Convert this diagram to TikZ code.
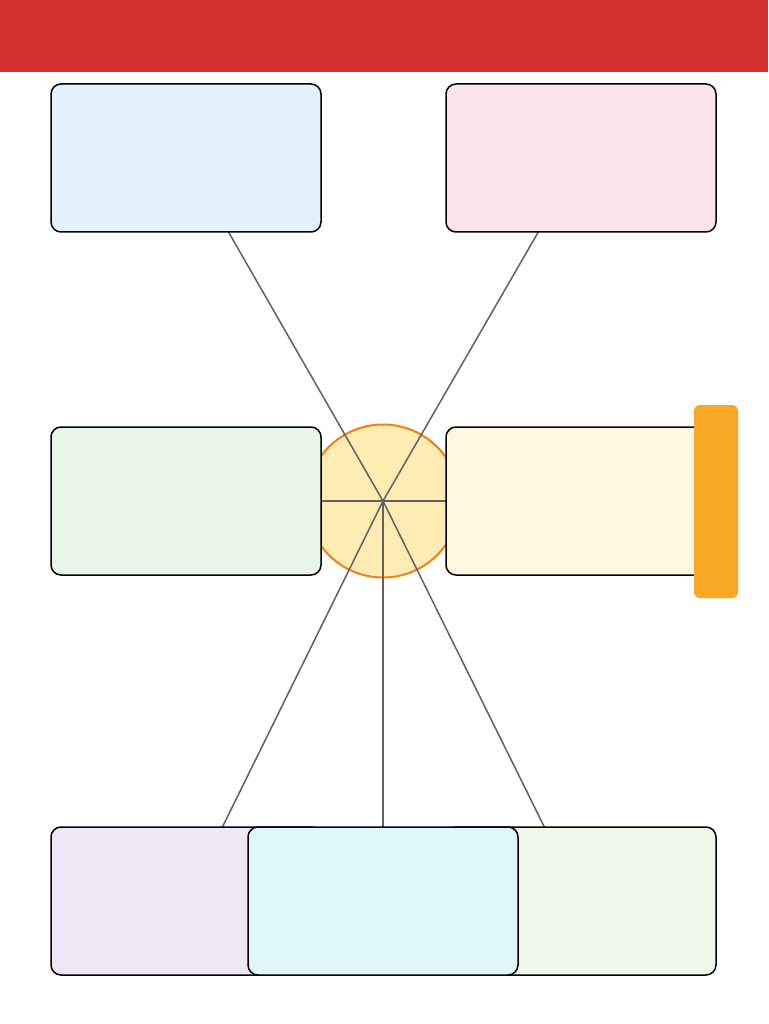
\documentclass[tikz,border=0pt]{standalone}
\usetikzlibrary{backgrounds}
\definecolor{hdr}{HTML}{D32F2F}
\definecolor{cTL}{HTML}{E3F2FD}
\definecolor{cTR}{HTML}{FCE4EC}
\definecolor{cML}{HTML}{E8F5E9}
\definecolor{cMR}{HTML}{FFF8E1}
\definecolor{cBL}{HTML}{EDE7F6}
\definecolor{cBM}{HTML}{E0F7FA}
\definecolor{cBR}{HTML}{F1F8E9}
\definecolor{hubfill}{HTML}{FFECB3}
\definecolor{hubline}{HTML}{F57F17}
\definecolor{barc}{HTML}{F9A825}
\definecolor{spoke}{HTML}{616161}
\begin{document}
\begin{tikzpicture}[x=1pt,y=-1pt,
  card/.style={draw=black,line width=1.5pt,rounded corners=10pt,minimum width=270pt,minimum height=148pt,inner sep=0pt},
  spokeline/.style={draw=spoke,line width=1.5pt}]
\useasboundingbox (0,0) rectangle (768,1024);
\node[card,fill=cTL] (tl) at (186,158) {};
\node[card,fill=cTR] (tr) at (581,158) {};
\node[card,fill=cML] (ml) at (186,501) {};
\node[card,fill=cMR] (mr) at (581,501) {};
\node[card,fill=cBL] (bl) at (186,901) {};
\node[card,fill=cBR] (br) at (581,901) {};
\node[card,fill=cBM] (bm) at (383,901) {};
\node[fill=barc,rounded corners=6pt,minimum width=44pt,minimum height=193pt,inner sep=0pt] (bar) at (716,501.5) {};
\begin{scope}[on background layer]
\fill[white] (0,0) rectangle (768,1024);
\fill[hdr] (0,0) rectangle (768,72);
\node[circle,fill=hubfill,draw=hubline,line width=2pt,minimum size=153pt,inner sep=0pt] (hub) at (383,501) {};
\coordinate (c) at (383,501);
\foreach \b in {tl,tr,ml,mr,bl,bm,br} \draw[spokeline] (c) -- (\b.center);
\end{scope}
\end{tikzpicture}
\end{document}
